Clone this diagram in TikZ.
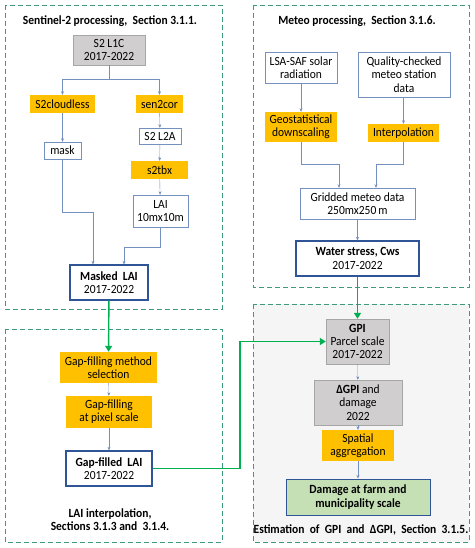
\documentclass[tikz,border=0pt]{standalone}
\usepackage{fontspec}
\setmainfont[FakeStretch=0.92]{Carlito}
\usepackage{tikz}
\usetikzlibrary{arrows.meta,positioning}
\definecolor{procorange}{HTML}{FFC000}
\definecolor{boxgray}{HTML}{D0CECE}
\definecolor{framegreen}{HTML}{3E9A7E}
\definecolor{linkgreen}{HTML}{00B050}
\definecolor{edgeblue}{HTML}{2F5597}
\definecolor{thinblue}{HTML}{7390C0}
\definecolor{dmggreen}{HTML}{C5E0B4}
\tikzset{
  frame/.style={draw=framegreen,dash pattern=on 5pt off 3pt,line width=0.9pt},
  proc/.style={fill=procorange,inner sep=1pt,align=center},
  data/.style={draw=thinblue,fill=white,inner sep=1pt,align=center},
  prod/.style={draw=edgeblue,line width=1.3pt,fill=white,inner sep=1pt,align=center},
  grey/.style={draw=gray!70,fill=boxgray,inner sep=1pt,align=center},
  flow/.style={draw=thinblue,-{Stealth[length=3.5pt,width=3pt]}},
  link/.style={draw=linkgreen,line width=1.4pt,-{Triangle[length=6pt,width=7pt]}},
  title/.style={font=\fontsize{12.5}{13.3}\selectfont\bfseries,align=center},
  every node/.style={font=\fontsize{12.5}{13.3}\selectfont}
}

\begin{document}
\begin{tikzpicture}[x=1pt,y=-1pt,line cap=butt,line join=miter]
  \useasboundingbox (0,0) rectangle (474,548);

  % Dashed frames
  \draw[frame] (5,5) rectangle (222,309);
  \draw[frame] (253,5) rectangle (469,287);
  \draw[frame] (5,329) rectangle (222,542);
  \draw[frame,fill=gray!8] (253,304) rectangle (469,542);

  % Sentinel-2 processing
  \node[title] (ttlsen) at (110,21) {Sentinel-2 processing,\ \ Section 3.1.1.};
  \node[grey,minimum width=72,minimum height=30] (lonec) at (109,50) {S2 L1C\\2017-2022};
  \node[proc,minimum width=65,minimum height=18] (cloudless) at (62.5,104) {S2cloudless};
  \node[proc,minimum width=47,minimum height=18] (sencor) at (159.5,104) {sen2cor};
  \node[data,minimum width=37,minimum height=17] (mask) at (62.5,150.5) {mask};
  \node[data,minimum width=42,minimum height=16] (ltwoa) at (160,136) {S2 L2A};
  \node[proc,minimum width=57,minimum height=18] (stbx) at (159.5,170) {s2tbx};
  \node[data,minimum width=55,minimum height=32] (laiten) at (160.5,211) {LAI\\10mx10m};
  \node[prod,minimum width=78,minimum height=35] (masked) at (109,282.5) {\textbf{Masked\ \ LAI}\\2017-2022};

  \coordinate (split) at (109,79);
  \coordinate (mj) at (93,212);
  \coordinate (lj) at (124,247);
  \draw[thinblue] (lonec) -- (split);
  \draw[flow] (split) -| (cloudless);
  \draw[flow] (split) -| (sencor);
  \draw[flow] (cloudless) -- (mask);
  \draw[flow] (sencor) -- (ltwoa);
  \draw[flow] (ltwoa) -- (stbx);
  \draw[flow] (stbx) -- (laiten);
  \draw[flow] (mask) |- (mj) -- (mj |- masked.north);
  \draw[flow] (laiten) |- (lj) -- (lj |- masked.north);

  % Meteo processing
  \node[title] (ttlmet) at (357,21) {Meteo processing,\ \ Section 3.1.6.};
  \node[data,minimum width=72,minimum height=31] (lsa) at (301,67.5) {LSA-SAF solar\\radiation};
  \node[data,minimum width=92,minimum height=45] (qual) at (404,74.5) {Quality-checked\\meteo station\\data};
  \node[proc,minimum width=72,minimum height=30] (geo) at (301,127) {Geostatistical\\downscaling};
  \node[proc,minimum width=71,minimum height=18] (interp) at (403.5,133) {Interpolation};
  \node[data,minimum width=115,minimum height=31] (grid) at (357.5,203.5) {Gridded meteo data\\250mx250\,m};
  \node[prod,minimum width=123,minimum height=35] (water) at (357.5,258.5) {\textbf{Water stress, Cws}\\2017-2022};

  \coordinate (gj) at (339,164);
  \coordinate (ij) at (376,164);
  \draw[flow] (lsa) -- (geo);
  \draw[flow] (qual.south -| interp) -- (interp);
  \draw[flow] (geo) |- (gj) -- (gj |- grid.north);
  \draw[flow] (interp) |- (ij) -- (ij |- grid.north);
  \draw[flow] (grid) -- (water);

  % LAI interpolation
  \node[proc,minimum width=97,minimum height=31] (gapsel) at (108.5,367.5) {Gap-filling method\\selection};
  \node[proc,minimum width=86,minimum height=32] (gapfill) at (109,412) {Gap-filling\\at pixel scale};
  \node[prod,minimum width=86,minimum height=35] (gapled) at (109,468.5) {\textbf{Gap-filled\ \ LAI}\\2017-2022};
  \node[title] (ttllai) at (110,519.5) {LAI interpolation,\\Sections 3.1.3 and\ \ 3.1.4.};

  \draw[flow] (gapsel) -- (gapfill);
  \draw[flow] (gapfill) -- (gapled);

  % Estimation of GPI
  \node[grey,minimum width=63,minimum height=45] (gpi) at (357.5,341.5) {\textbf{GPI}\\Parcel scale\\2017-2022};
  \node[grey,minimum width=88,minimum height=45] (dgpi) at (358,402.5) {\textbf{ΔGPI} and\\damage\\2022};
  \node[proc,minimum width=72,minimum height=31] (spatial) at (358,445.5) {Spatial\\aggregation};
  \node[draw=edgeblue,line width=1pt,fill=dmggreen,align=center,minimum width=144,minimum height=36,
        font=\fontsize{12.5}{13.3}\selectfont\bfseries] (damage) at (358,497) {Damage at farm and\\municipality scale};
  \node[title] (ttlgpi) at (361,530) {\spaceskip=0.42em Estimation of GPI and ΔGPI, Section 3.1.5.};

  \draw[flow] (gpi) -- (dgpi);
  \draw[flow] (dgpi) -- (spatial);
  \draw[flow] (spatial) -- (damage);

  % Links between the parts
  \coordinate (turn) at (240,0);
  \draw[link] (masked) -- (gapsel);
  \draw[link] (water) -- (gpi);
  \draw[link] (gapled.east) -- (gapled.east -| turn) |- (gpi.west);
\end{tikzpicture}
\end{document}
